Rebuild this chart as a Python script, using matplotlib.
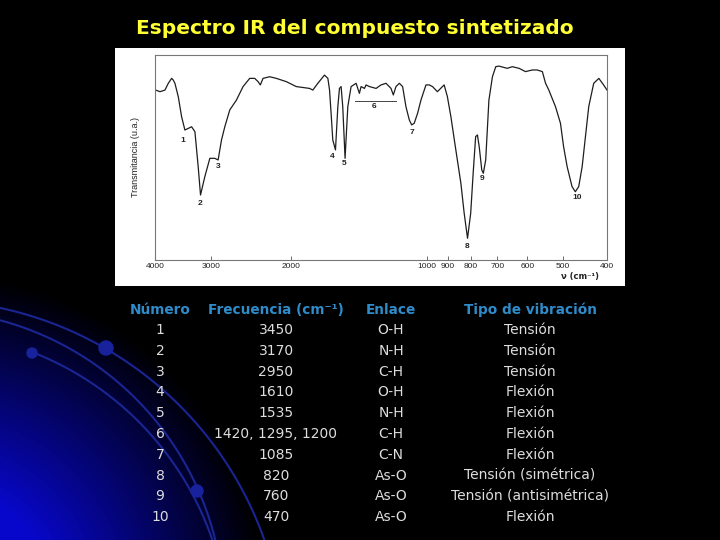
import numpy as np
import matplotlib
matplotlib.use("Agg")
import matplotlib.pyplot as plt
from matplotlib.patches import Rectangle, Circle
from matplotlib.ticker import FixedLocator, FixedFormatter, NullLocator

# ---------------- data ----------------
title = "Espectro IR del compuesto sintetizado"

wavenumber = [4000, 3900, 3802, 3738, 3675, 3645, 3614, 3553, 3493, 3435, 3376, 3320,
              3264, 3210, 3172, 3103, 3025, 2949, 2900, 2851, 2803, 2733, 2642, 2554,
              2469, 2407, 2366, 2339, 2307, 2230, 2156, 2049, 1948, 1820, 1790, 1745,
              1687, 1658, 1644, 1631, 1617, 1595, 1576, 1563, 1550, 1537, 1519, 1498,
              1473, 1436, 1412, 1400, 1376, 1365, 1342, 1297, 1265, 1233, 1202, 1188,
              1172, 1152, 1133, 1114, 1095, 1082, 1068, 1050, 1032, 1006, 989, 973,
              949, 925, 917, 902, 886, 864, 842, 828, 814, 801, 791, 781, 774, 767,
              757, 751, 742, 730, 717, 705, 694, 665, 648, 626, 606, 585, 571, 556,
              547, 538, 520, 507, 499, 490, 478, 470, 462, 454, 439, 428, 417, 407, 400]
transmittance = [83.0, 82.1, 82.9, 86.2, 88.6, 87.8, 86.2, 79.7, 69.9, 63.4, 64.2, 65.0,
                 62.6, 45.5, 31.7, 40.7, 49.6, 49.6, 48.8, 58.5, 65.0, 73.2, 78.0, 84.6,
                 88.6, 88.6, 87.0, 85.4, 88.6, 89.4, 88.6, 87.0, 84.6, 83.7, 82.9, 86.2,
                 90.2, 88.6, 82.9, 71.5, 58.5, 53.7, 74.8, 83.7, 84.6, 74.8, 49.6, 74.8,
                 84.6, 86.2, 81.3, 84.6, 83.7, 85.4, 84.6, 83.7, 85.4, 86.2, 83.7, 80.5,
                 84.6, 86.2, 84.6, 74.8, 68.3, 65.9, 66.7, 71.5, 78.0, 85.4, 85.4, 84.6,
                 82.1, 84.6, 85.4, 79.7, 69.9, 53.7, 37.4, 22.8, 10.6, 22.8, 42.3, 60.2,
                 61.0, 55.3, 43.9, 42.3, 48.8, 78.0, 89.4, 94.3, 94.6, 93.5, 94.3, 93.5,
                 91.9, 92.7, 92.7, 91.9, 86.2, 82.9, 74.8, 66.7, 55.3, 45.5, 35.8, 33.3,
                 35.8, 45.5, 74.8, 86.2, 88.6, 85.4, 82.9]

peak_labels = ["1", "2", "3", "4", "5", "6", "7", "8", "9", "10"]
peak_label_nu = [3464, 3172, 2900, 1624, 1524, 1308, 1081, 814, 755, 466]
peak_label_T = [58.5, 27.6, 45.5, 50.4, 47.2, 74.8, 62.1, 6.5, 39.8, 30.6]
band6_nu = [1443, 1172]
band6_T = [77.6, 77.6]

x_ticks = [4000, 3000, 2000, 1000, 900, 800, 700, 600, 500, 400]
x_tick_labels = ["4000", "3000", "2000", "1000", "900", "800", "700", "600", "500", "400"]

headers = ["Número", "Frecuencia (cm⁻¹)", "Enlace", "Tipo de vibración"]
numeros = ["1", "2", "3", "4", "5", "6", "7", "8", "9", "10"]
frecuencias = ["3450", "3170", "2950", "1610", "1535", "1420, 1295, 1200",
               "1085", "820", "760", "470"]
enlaces = ["O-H", "N-H", "C-H", "O-H", "N-H", "C-H", "C-N", "As-O", "As-O", "As-O"]
tipos = ["Tensión", "Tensión", "Tensión", "Flexión", "Flexión", "Flexión", "Flexión",
         "Tensión (simétrica)", "Tensión (antisimétrica)", "Flexión"]

# ---------------- figure ----------------
W, H = 720, 540
fig = plt.figure(figsize=(7.2, 5.4), dpi=100, facecolor="black")
bg = fig.add_axes([0, 0, 1, 1])
bg.set_xlim(0, W)
bg.set_ylim(H, 0)
bg.axis("off")

# decorative blue gradient (lower left)
yy, xx = np.mgrid[0:H, 0:W]
d = np.hypot(xx + 60, yy - 600)
inten = np.clip((325 - d) / 215, 0, 1)
img = np.zeros((H, W, 3))
img[..., 0] = 0.03 * inten
img[..., 1] = 0.03 * inten
img[..., 2] = 0.80 * inten
bg.imshow(img, extent=(0, W, H, 0), zorder=0, interpolation="bilinear")

# decorative arcs
arc_col = "#1a2592"
for (cx, cy, r, a0, a1) in [(-75, 660, 360, -79, -15), (-78, 612, 302, -75, -13.8),
                            (-80, 640, 309, -68.7, -15)]:
    t = np.radians(np.linspace(a0, a1, 200))
    bg.plot(cx + r * np.cos(t), cy + r * np.sin(t), color=arc_col, lw=1.5,
            solid_capstyle="round", zorder=1)
for (px, py, pr) in [(106, 348, 7), (197, 491, 6), (32, 353, 5)]:
    bg.add_patch(Circle((px, py), pr, color="#17229c", zorder=1))

# title
bg.text(355, 28, title, color="#ffff33", fontsize=14.5, fontweight="bold",
        family="DejaVu Sans", ha="center", va="center", zorder=3)

# white panel for spectrum
bg.add_patch(Rectangle((115, 48), 510, 238, facecolor="white", edgecolor="none", zorder=2))

# ---------------- spectrum ----------------
ax = fig.add_axes([155 / W, 1 - 260 / H, 452 / W, 205 / H])
ax.set_facecolor("white")
ax.plot(wavenumber, transmittance, color="#1e1e1e", lw=0.9)
ax.set_xscale("log")
ax.set_xlim(4000, 400)
ax.set_ylim(0, 100)
ax.xaxis.set_major_locator(FixedLocator(x_ticks))
ax.xaxis.set_major_formatter(FixedFormatter(x_tick_labels))
ax.xaxis.set_minor_locator(NullLocator())
ax.set_yticks([])
ax.tick_params(axis="x", direction="in", length=3, width=0.6, color="#555555",
               labelsize=6, labelcolor="#222222", pad=2)
for lab in ax.get_xticklabels():
    lab.set_family("Liberation Sans")
for s in ax.spines.values():
    s.set_color("#777777")
    s.set_linewidth(0.8)

for lbl, nu, T in zip(peak_labels, peak_label_nu, peak_label_T):
    ax.text(nu, T, lbl, fontsize=6, fontweight="bold", color="#222222",
            ha="center", va="center", family="Liberation Sans")
ax.plot(band6_nu, band6_T, color="#444444", lw=0.7)

bg.text(580, 276, "ν (cm⁻¹)", fontsize=6, fontweight="bold", color="#222222",
        ha="center", va="center", zorder=3)
bg.text(135, 157, "Transmitancia (u.a.)", fontsize=6.5, color="#222222", rotation=90,
        ha="center", va="center", zorder=3, family="Liberation Sans")

# ---------------- table ----------------
col_x = [160, 276, 391, 530]
header_y = 310
row_y0, row_dy = 330, 20.8
for x, h in zip(col_x, headers):
    bg.text(x, header_y, h, color="#2f8bc9", fontsize=9.8, fontweight="bold",
            family="DejaVu Sans", ha="center", va="center", zorder=3)
for i, row in enumerate(zip(numeros, frecuencias, enlaces, tipos)):
    y = row_y0 + i * row_dy
    for x, v in zip(col_x, row):
        bg.text(x, y, v, color="#dddddd", fontsize=10, family="DejaVu Sans",
                ha="center", va="center", zorder=3)

fig.savefig("out.png", dpi=100, facecolor="black")
